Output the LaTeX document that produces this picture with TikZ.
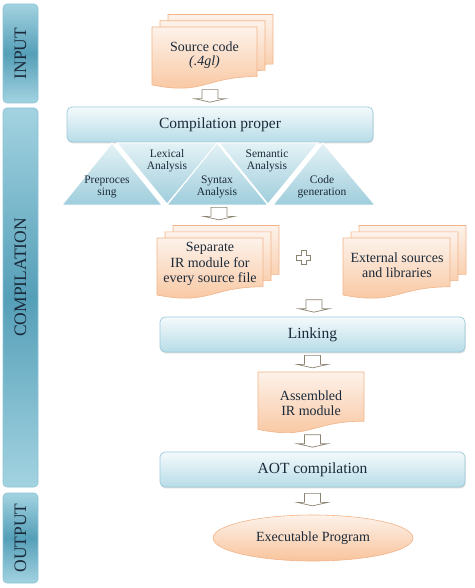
\documentclass[tikz,border=0pt]{standalone}
\usepackage{fontspec}
\setmainfont{Liberation Serif}
\usetikzlibrary{calc, shadows, shapes.geometric}

\definecolor{ink}{HTML}{1B2A3A}
\definecolor{barlight}{HTML}{A3D3E1}
\definecolor{bardark}{HTML}{559FB8}
\definecolor{barline}{HTML}{8CC3D3}
\definecolor{boxtop}{HTML}{F4FAFC}
\definecolor{boxbottom}{HTML}{B7DCE7}
\definecolor{boxline}{HTML}{9CCADB}
\definecolor{tritop}{HTML}{E4F2F6}
\definecolor{tribottom}{HTML}{9FCDDC}
\definecolor{doctop}{HTML}{FDF2EA}
\definecolor{docbottom}{HTML}{F8C49C}
\definecolor{docline}{HTML}{F1B489}
\definecolor{arrowline}{HTML}{8C8372}

\tikzset{
  sidebar/.style={draw=barline, line width=0.6pt, rounded corners=4pt,
    top color=barlight, bottom color=barlight, middle color=bardark,
    minimum width=35pt, inner sep=0pt},
  bartext/.style={text=ink, rotate=90, font=\fontsize{17.5}{18}\selectfont},
  stagebox/.style={draw=boxline, line width=0.7pt, rounded corners=5pt,
    top color=boxtop, bottom color=boxbottom, text=ink,
    minimum height=35pt, font=\fontsize{15.5}{17}\selectfont,
    drop shadow={shadow xshift=0.6pt, shadow yshift=-1.4pt, opacity=0.3}},
  tri/.style={draw=white, line width=1pt, top color=tritop, bottom color=tribottom},
  tritext/.style={text=ink, align=center, font=\fontsize{11.5}{12}\selectfont},
  sheet/.style={draw=docline, line width=0.6pt, top color=doctop, bottom color=docbottom},
  doctext/.style={text=ink, align=center, font=\fontsize{14}{15.5}\selectfont},
  hollow/.style={draw=arrowline, fill=white, line width=0.7pt, line join=miter},
  result/.style={ellipse, draw=docline, line width=0.6pt, top color=doctop,
    bottom color=docbottom, text=ink, minimum width=200pt, minimum height=46pt,
    font=\fontsize{14}{15}\selectfont},
  pics/downarrow/.style={code={
    \draw[hollow] (-8,0) -- (8,0) -- (8,9) -- (15.5,9) -- (0,12.5)
      -- (-15.5,9) -- (-8,9) -- cycle;}}
}

% One sheet of a document: x, y of the top left corner, width, height.
\newcommand{\docsheet}[4]{%
  \draw[sheet] (#1,#2) -- ({#1+#3},#2) -- ({#1+#3},{#2+0.8*#4})
    .. controls ({#1+0.5*#3},{#2+0.8*#4}) and ({#1+0.5*#3},{#2+1.107*#4})
    .. (#1,{#2+0.934*#4}) -- cycle;}
% A stack of three sheets.
\newcommand{\docstack}[4]{%
  \docsheet{#1+16}{#2-12.5}{#3}{#4}%
  \docsheet{#1+8}{#2-6.2}{#3}{#4}%
  \docsheet{#1}{#2}{#3}{#4}}

\begin{document}
\begin{tikzpicture}[x=1pt, y=-1pt]
  \useasboundingbox (0,0) rectangle (474,588);

  % Draw the three stage bars.
  \node[sidebar, minimum height=99pt] (inputbar) at (20.5,53.5) {};
  \node[sidebar, minimum height=379pt] (compbar) at (20.5,297.5) {};
  \node[sidebar, minimum height=90pt] (outputbar) at (20.5,538) {};
  \node[bartext] (inputlabel) at (inputbar.center) {INPUT};
  \node[bartext] (complabel) at ([yshift=20pt]compbar.center) {COMPILATION};
  \node[bartext] (outputlabel) at (outputbar.center) {OUTPUT};

  % Draw source code documents.
  \docstack{152}{27}{105}{62}
  \node[doctext] (source) at (204.5,55) {Source code\\[-1pt]\textit{(.4gl)}};

  % Draw compilation proper and its phases.
  \node[stagebox, minimum width=306pt] (proper) at (220,124.5) {Compilation proper};
  \path[tri] (62,205) -- (162,205) -- (112,143) -- cycle;
  \path[tri] (117,143) -- (218,143) -- (167,204) -- cycle;
  \path[tri] (167,205) -- (268,205) -- (217,143) -- cycle;
  \path[tri] (219,143) -- (318,143) -- (268,204) -- cycle;
  \path[tri] (273,205) -- (375,205) -- (323,143) -- cycle;
  \node[tritext] (prep) at (107,187) {Preproces\\sing};
  \node[tritext] (lex) at (167,161) {Lexical\\Analysis};
  \node[tritext] (syn) at (217,187) {Syntax\\Analysis};
  \node[tritext] (sem) at (267,161) {Semantic\\Analysis};
  \node[tritext] (gen) at (322,187) {Code\\generation};

  % Draw the IR modules and the external sources.
  \docstack{157}{238}{106}{61}
  \docstack{343}{238}{107}{61}
  \node[doctext] (modules) at (210,264) {Separate\\IR module for\\every source file};
  \node[doctext] (external) at (397,265) {External sources\\and libraries};
  \coordinate (plus) at ($(modules.east)!0.5!(external.west)+(0,-7)$);
  \draw[hollow] ($(plus)+(-2.5,-7)$) -- ++(5,0) -- ++(0,4.5) -- ++(4.5,0)
    -- ++(0,5) -- ++(-4.5,0) -- ++(0,4.5) -- ++(-5,0) -- ++(0,-4.5)
    -- ++(-4.5,0) -- ++(0,-5) -- ++(4.5,0) -- cycle;

  % Draw linking, assembled module and AOT compilation.
  \node[stagebox, minimum width=305pt] (linking) at (312.5,334.5) {Linking};
  \docsheet{258}{372}{106}{61.5}
  \node[doctext] (assembled) at (311,403) {Assembled\\IR module};
  \node[stagebox, minimum width=305pt] (aot) at (312.5,469.5) {AOT compilation};
  \node[result] (exe) at (313,538) {Executable Program};

  % Draw the hollow arrows.
  \path (proper.north -| 210,0) ++(0,-17) pic {downarrow};
  \path (proper.south) ++(-1,65) pic {downarrow};
  \path (linking.north) ++(1.5,-17) pic {downarrow};
  \path (linking.south) ++(0,3) pic {downarrow};
  \path (aot.north) ++(0,-17) pic {downarrow};
  \path (aot.south) ++(0,6) pic {downarrow};
\end{tikzpicture}
\end{document}
